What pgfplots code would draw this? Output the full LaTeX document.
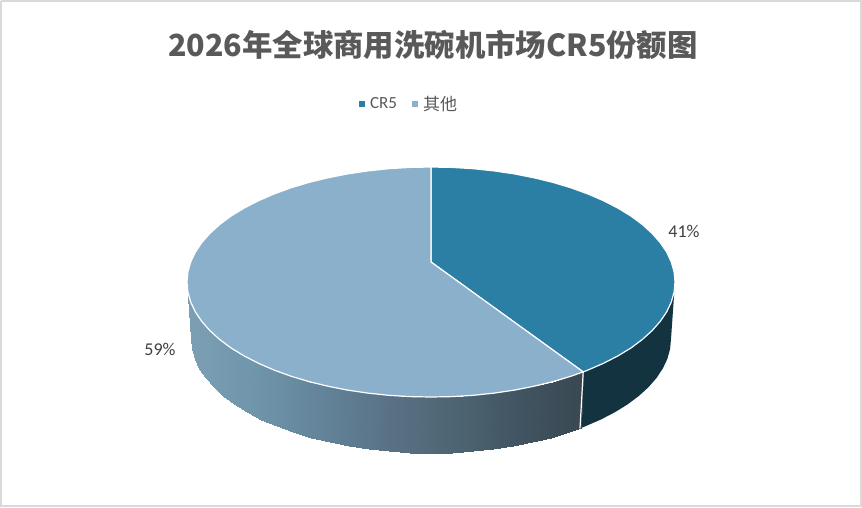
\documentclass[border=0pt]{standalone}
\usepackage{fontspec}
\usepackage{pgfplots}
\pgfplotsset{compat=1.18}
\setmainfont{Carlito}
\newfontfamily\cjk{Noto Sans CJK SC}

\definecolor{cr5}{HTML}{2B7EA4}
\definecolor{other}{HTML}{8AB0CC}
\definecolor{cr5side}{HTML}{12333F}
\definecolor{txt}{HTML}{595959}
\definecolor{lab}{HTML}{404040}
\definecolor{frame}{HTML}{D9D9D9}

\begin{document}
\begin{tikzpicture}
\begin{axis}[
	scale only axis,
	width=862pt, height=507pt,
	xmin=0, xmax=862,
	ymin=0, ymax=507,
	y dir=reverse,
	hide axis,
	clip=false,
	colormap={wall}{
		rgb255=(124,159,180) rgb255=(112,150,171) rgb255=(99,132,154)
		rgb255=(90,114,134) rgb255=(78,102,115) rgb255=(65,85,98) rgb255=(57,72,82)
	},
	point meta min=187, point meta max=583,
	legend style={at={(axis cs:409,104)}, anchor=center, draw=none, fill=none,
		font=\fontsize{17}{20}\selectfont, text=txt, legend columns=-1,
		inner sep=0pt,
		/tikz/every even column/.append style={column sep=13pt}},
	legend image code/.code={\path (9pt,0pt); \path[draw=none, #1] (0pt,-3pt) rectangle (6pt,3pt);},
]
% chart frame
\addplot[forget plot, draw=frame, line width=2pt] coordinates {(1,1)(861,1)(861,506)(1,506)(1,1)};

% side wall of CR5
\addplot[forget plot, fill=cr5side, draw=none] coordinates {
	(675,282)(674.1,292)(671.3,302)(666.7,311.8)(660.3,321.3)(652.1,330.6)(642.3,339.5)
	(630.9,348)(617.9,355.9)(603.5,363.3)(587.8,370.1)(583.2,371.9)
	(580.8,428.1)(585.3,426.3)(600.7,419.6)(614.8,412.3)(627.6,404.4)(638.8,396)
	(648.5,387.2)(656.5,378)(662.8,368.5)(667.4,358.8)(670.1,348.9)(671,339)
};

% side wall of the rest, shaded along x
\addplot[forget plot, surf, shader=interp, mesh/rows=2, point meta=x] table {
x y
583.2 371.9
571 376.2
553 381.6
534.1 386.2
514.4 390.1
494.1 393.1
473.4 395.3
452.3 396.6
431 397
409.7 396.6
388.6 395.3
367.9 393.1
347.6 390.1
327.9 386.2
309 381.6
291 376.2
274.2 370.1
258.5 363.3
244.1 355.9
231.1 348
219.7 339.5
209.9 330.6
201.7 321.3
195.3 311.8
190.7 302
187.9 292
187 282
580.8 428.1
568.7 432.4
551 437.7
532.4 442.3
513.1 446.1
493.1 449.1
472.7 451.3
451.9 452.6
431 453
410.1 452.6
389.3 451.3
368.9 449.1
348.9 446.1
329.6 442.3
311 437.7
293.3 432.4
276.7 426.3
261.3 419.6
247.2 412.3
234.4 404.4
223.2 396
213.5 387.2
205.5 378
199.2 368.5
194.6 358.8
191.9 348.9
191 339
};
\addplot[forget plot, draw=white, line width=1.2pt] coordinates {(583.2,371.9)(580.0,428.4)};

% top face, CR5 41
\addplot[forget plot, fill=cr5, draw=white, line width=1.2pt, line join=round] coordinates {
	(431,262)(431,167)(452.3,167.4)(473.4,168.7)(494.1,170.9)(514.4,173.9)(534.1,177.8)
	(553,182.4)(571,187.8)(587.8,193.9)(603.5,200.7)(617.9,208.1)(630.9,216)(642.3,224.5)
	(652.1,233.4)(660.3,242.7)(666.7,252.2)(671.3,262)(674.1,272)(675,282)
	(674.1,292)(671.3,302)(666.7,311.8)(660.3,321.3)(652.1,330.6)(642.3,339.5)
	(630.9,348)(617.9,355.9)(603.5,363.3)(587.8,370.1)(583.2,371.9)(431,262)
};
% top face, rest 59
\addplot[forget plot, fill=other, draw=white, line width=1.2pt, line join=round] coordinates {
	(431,262)(583.2,371.9)(571,376.2)(553,381.6)(534.1,386.2)(514.4,390.1)(494.1,393.1)
	(473.4,395.3)(452.3,396.6)(431,397)(409.7,396.6)(388.6,395.3)(367.9,393.1)(347.6,390.1)
	(327.9,386.2)(309,381.6)(291,376.2)(274.2,370.1)(258.5,363.3)(244.1,355.9)(231.1,348)
	(219.7,339.5)(209.9,330.6)(201.7,321.3)(195.3,311.8)(190.7,302)(187.9,292)(187,282)
	(187.9,272)(190.7,262)(195.3,252.2)(201.7,242.7)(209.9,233.4)(219.7,224.5)(231.1,216)
	(244.1,208.1)(258.5,200.7)(274.2,193.9)(291,187.8)(309,182.4)(327.9,177.8)(347.6,173.9)
	(367.9,170.9)(388.6,168.7)(409.7,167.4)(431,167)(431,262)
};

\addlegendimage{fill=cr5}
\addlegendentry{CR5}
\addlegendimage{fill=other}
\addlegendentry{{\cjk 其他}}

\node[text=txt, font=\cjk\bfseries\fontsize{30.4}{34}\selectfont] at (axis cs:433,45) {2026年全球商用洗碗机市场CR5份额图};
\node[text=lab, font=\fontsize{18}{20}\selectfont] at (axis cs:684,231) {41\%};
\node[text=lab, font=\fontsize{18}{20}\selectfont] at (axis cs:160,349) {59\%};
\end{axis}
\end{tikzpicture}
\end{document}
